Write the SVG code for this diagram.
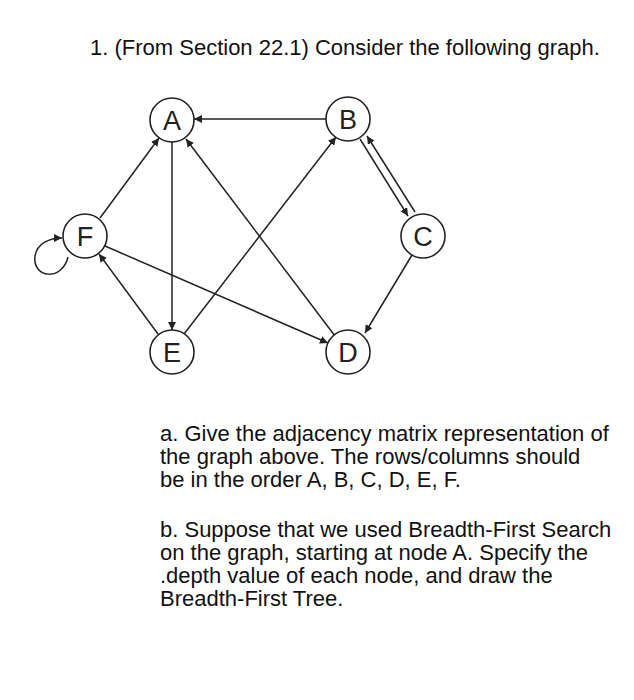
<svg xmlns="http://www.w3.org/2000/svg" width="634" height="700" viewBox="0 0 634 700">
<style>
.n circle{fill:#fff;stroke:#222;stroke-width:1.6}
.n text{font-family:"Liberation Sans",Arial,sans-serif;font-size:27px;text-anchor:middle;fill:#222}
#edges line,#edges path{stroke:#222;stroke-width:1.5;fill:none;marker-end:url(#ah)}
.t{font-family:"Liberation Sans",Arial,sans-serif;font-size:22px;fill:#111}
</style>
<defs><marker id="ah" viewBox="0 0 10 10" refX="10" refY="5" markerWidth="8" markerHeight="8" markerUnits="userSpaceOnUse" orient="auto"><path d="M0,0L10,5L0,10z" fill="#222"/></marker></defs>
<rect width="634" height="700" fill="#fff"/>
<text class="t" x="90" y="55">1. (From Section 22.1) Consider the following graph.</text>
<g id="edges">
<line x1="327" y1="119" x2="194" y2="119"/>
<line x1="172" y1="142" x2="172" y2="330"/>
<line x1="100" y1="218" x2="159" y2="138"/>
<line x1="335" y1="336" x2="186" y2="139"/>
<line x1="184" y1="334" x2="336" y2="137"/>
<line x1="158" y1="334" x2="99" y2="254"/>
<line x1="105" y1="246" x2="328" y2="343"/>
<line x1="360" y1="139" x2="408" y2="216"/>
<line x1="415" y1="212" x2="367" y2="136"/>
<line x1="412" y1="255" x2="365" y2="333"/>
<path d="M68,257 C62,282 32,278 35,256 C37,243 50,238 62,238"/>
</g>
<g id="nA" class="n"><circle cx="172" cy="120" r="22"/><text x="172" y="130">A</text></g>
<g id="nB" class="n"><circle cx="348" cy="119" r="22"/><text x="348" y="129">B</text></g>
<g id="nC" class="n"><circle cx="423" cy="236" r="22"/><text x="423" y="246">C</text></g>
<g id="nD" class="n"><circle cx="348" cy="352" r="22"/><text x="348" y="362">D</text></g>
<g id="nE" class="n"><circle cx="172" cy="352" r="22"/><text x="172" y="362">E</text></g>
<g id="nF" class="n"><circle cx="85" cy="236" r="22"/><text x="85" y="246">F</text></g>
<text class="t" x="160" y="441">a. Give the adjacency matrix representation of</text>
<text class="t" x="160" y="464">the graph above.  The rows/columns should</text>
<text class="t" x="160" y="487">be in the order A, B, C, D, E, F.</text>
<text class="t" x="160" y="537">b. Suppose that we used Breadth-First Search</text>
<text class="t" x="160" y="560">on the graph, starting at node A.  Specify the</text>
<text class="t" x="160" y="583">.depth value of each node, and draw the</text>
<text class="t" x="160" y="606">Breadth-First Tree.</text>
</svg>
